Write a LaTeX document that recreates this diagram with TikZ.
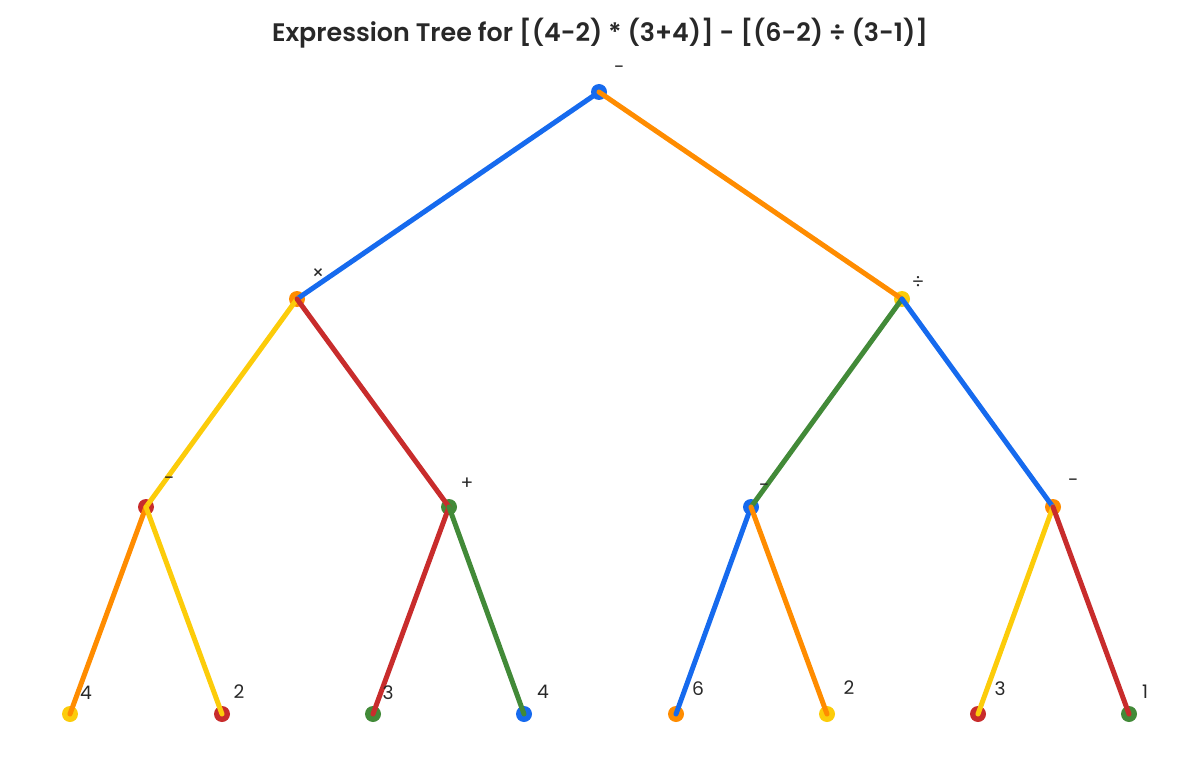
\documentclass[tikz,border=0pt]{standalone}
\usepackage{fontspec}
\setmainfont{Poppins}[BoldFont={Poppins SemiBold}]
\usetikzlibrary{positioning}

\definecolor{tblue}{RGB}{22,106,238}
\definecolor{torange}{RGB}{255,140,0}
\definecolor{tyellow}{RGB}{252,204,10}
\definecolor{tred}{RGB}{200,44,44}
\definecolor{tgreen}{RGB}{66,138,56}
\definecolor{tgray}{RGB}{40,40,40}

\begin{document}
\begin{tikzpicture}[x=0.75pt,y=0.75pt,yscale=-1,xscale=1,
  dot/.style={circle,inner sep=0pt,minimum size=12pt,fill=#1},
  edge/.style={draw=#1,line width=3.75pt,line cap=round},
  lbl/.style={text=tgray,inner sep=0.75pt,font=\fontsize{14}{14}\selectfont}]
%set diagram size 1200 x 763
\useasboundingbox (0,0) rectangle (1200,763);

% Title
\node [font=\bfseries\fontsize{19}{22}\selectfont,text=tgray] (title) at (600,33) {Expression Tree for [(4-2) * (3+4)] - [(6-2) ÷ (3-1)]};

%Shape: Circles (operators)
\node [dot=tblue] (root) at (599,92) {};
\node [dot=torange] (mul) at (297,299) {};
\node [dot=tyellow] (dvd) at (902,299) {};
\node [dot=tred] (subA) at (146,507) {};
\node [dot=tgreen] (add) at (449,507) {};
\node [dot=tblue] (subB) at (751,507) {};
\node [dot=torange] (subC) at (1053,507) {};
%Shape: Circles (leaves)
\node [dot=tyellow] (leafA) at (70,714) {};
\node [dot=tred] (leafB) at (222,714) {};
\node [dot=tgreen] (leafC) at (373,714) {};
\node [dot=tblue] (leafD) at (524,714) {};
\node [dot=torange] (leafE) at (676,714) {};
\node [dot=tyellow] (leafF) at (827,714) {};
\node [dot=tred] (leafG) at (978,714) {};
\node [dot=tgreen] (leafH) at (1129,714) {};

%Straight Lines
\draw [edge=tblue] (root.center) -- (mul.center);
\draw [edge=torange] (root.center) -- (dvd.center);
\draw [edge=tyellow] (mul.center) -- (subA.center);
\draw [edge=tred] (mul.center) -- (add.center);
\draw [edge=tgreen] (dvd.center) -- (subB.center);
\draw [edge=tblue] (dvd.center) -- (subC.center);
\draw [edge=torange] (subA.center) -- (leafA.center);
\draw [edge=tyellow] (subA.center) -- (leafB.center);
\draw [edge=tred] (add.center) -- (leafC.center);
\draw [edge=tgreen] (add.center) -- (leafD.center);
\draw [edge=tblue] (subB.center) -- (leafE.center);
\draw [edge=torange] (subB.center) -- (leafF.center);
\draw [edge=tyellow] (subC.center) -- (leafG.center);
\draw [edge=tred] (subC.center) -- (leafH.center);

% Text Node
\node [lbl] (troot) at (619,70) {−};
\node [lbl] (tmul) at (318,274) {×};
\node [lbl] (tdvd) at (918,282) {÷};
\node [lbl] (tsubA) at (169,481) {−};
\node [lbl] (tadd) at (467,484) {+};
\node [lbl] (tsubB) at (764,488) {−};
\node [lbl] (tsubC) at (1073,483) {−};
% Text Node
\node [lbl] (tleafA) at (86,693) {4};
\node [lbl] (tleafB) at (239,692) {2};
\node [lbl] (tleafC) at (388,693) {3};
\node [lbl] (tleafD) at (543,692) {4};
\node [lbl] (tleafE) at (698,689) {6};
\node [lbl] (tleafF) at (849,688) {2};
\node [lbl] (tleafG) at (1000,689) {3};
\node [lbl] (tleafH) at (1145,692) {1};

\end{tikzpicture}
\end{document}
